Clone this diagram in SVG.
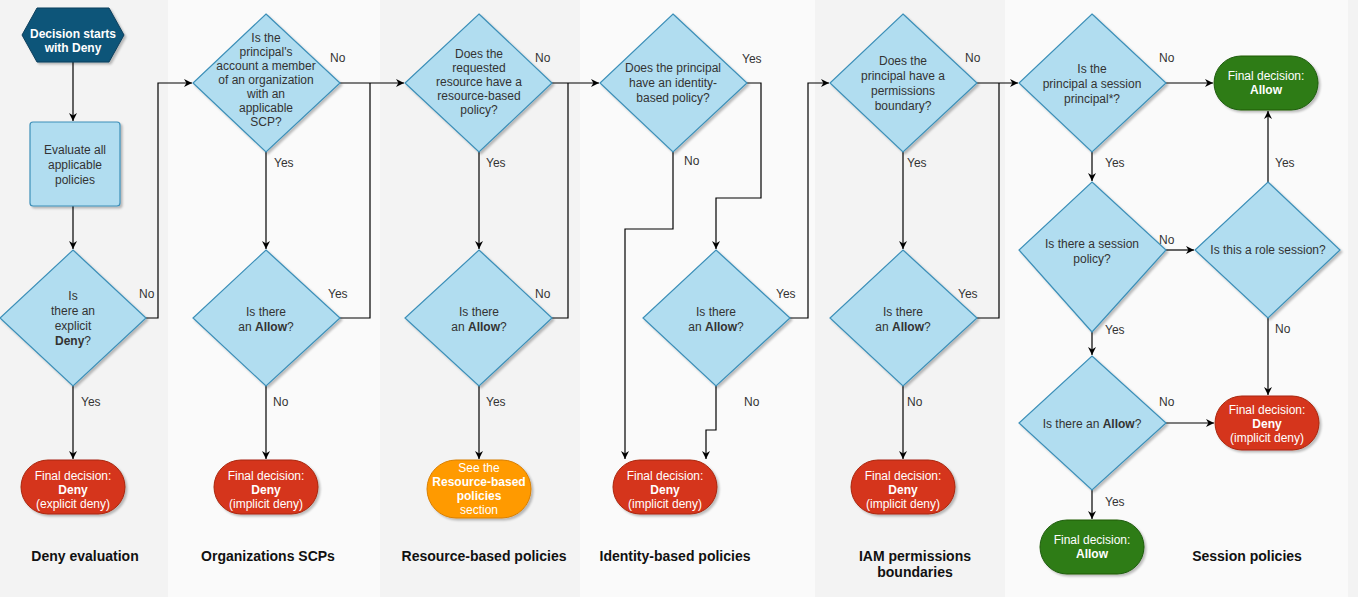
<svg xmlns="http://www.w3.org/2000/svg" width="1358" height="597" viewBox="0 0 1358 597">
<defs>
<marker id="ah" viewBox="0 0 10 10" refX="10" refY="5" markerWidth="8" markerHeight="8" orient="auto" markerUnits="userSpaceOnUse"><path d="M0,0 L10,5 L0,10 L3,5 z" fill="#000"/></marker>
<filter id="sh" x="-10%" y="-10%" width="130%" height="130%"><feDropShadow dx="2" dy="2" stdDeviation="1.2" flood-color="#000" flood-opacity="0.25"/></filter>
</defs>
<style>
.d{fill:#b1ddf0;stroke:#3c8fb8;stroke-width:1.2;filter:url(#sh)}
.t{font-family:"Liberation Sans",Arial,sans-serif;font-size:12px;fill:#333;text-anchor:middle}
.w{font-family:"Liberation Sans",Arial,sans-serif;font-size:12px;fill:#fff;text-anchor:middle}
.l{font-family:"Liberation Sans",Arial,sans-serif;font-size:12px;fill:#333}
.h{font-family:"Liberation Sans",Arial,sans-serif;font-size:14px;font-weight:bold;fill:#111;text-anchor:middle}
.red{fill:#d5341a;stroke:#a8260f;filter:url(#sh)}
.grn{fill:#2d7b16;stroke:#1f5c0d;filter:url(#sh)}
.c path{fill:none;stroke:#000;stroke-width:1.2}
.a{marker-end:url(#ah)}
</style>
<rect x="0" y="0" width="1358" height="597" fill="#f3f3f3"/>
<rect x="168" y="0" width="212" height="597" fill="#fafafa"/>
<rect x="580" y="0" width="235" height="597" fill="#fafafa"/>
<rect x="1005" y="0" width="343" height="597" fill="#fafafa"/>

<g class="c">
<path class="a" d="M73,62 V121"/>
<path class="a" d="M73,206 V249"/>
<path class="a" d="M73,386 V459"/>
<path class="a" d="M146,318 H158 V83 H192"/>
<path class="a" d="M266,152 V249"/>
<path class="a" d="M266,386 V459"/>
<path class="a" d="M340,83 H404"/>
<path d="M340,318 H370 V83"/>
<path class="a" d="M479,152 V249"/>
<path class="a" d="M479,386 V459"/>
<path class="a" d="M552,83 H599"/>
<path d="M552,318 H568 V83"/>
<path class="a" d="M747,83 H761 V198 H716 V249"/>
<path class="a" d="M673,152 V229 H625 V459"/>
<path class="a" d="M790,318 H808 V83 H829"/>
<path class="a" d="M716,386 V430 H706 V459"/>
<path class="a" d="M977,83 H1018"/>
<path d="M977,318 H999 V83"/>
<path class="a" d="M903,152 V249"/>
<path class="a" d="M903,386 V459"/>
<path class="a" d="M1166,83 H1213"/>
<path class="a" d="M1092,152 V181"/>
<path class="a" d="M1166,250 H1194"/>
<path class="a" d="M1092,332 V355"/>
<path class="a" d="M1166,423 H1214"/>
<path class="a" d="M1092,490 V519"/>
<path class="a" d="M1268,182 V111"/>
<path class="a" d="M1268,318 V395"/>
</g>

<g id="labels">
<text class="l" x="139" y="298">No</text>
<text class="l" x="81" y="406">Yes</text>
<text class="l" x="330" y="62">No</text>
<text class="l" x="274" y="167">Yes</text>
<text class="l" x="328" y="298">Yes</text>
<text class="l" x="273" y="406">No</text>
<text class="l" x="535" y="62">No</text>
<text class="l" x="486" y="167">Yes</text>
<text class="l" x="535" y="298">No</text>
<text class="l" x="486" y="406">Yes</text>
<text class="l" x="742" y="63">Yes</text>
<text class="l" x="684" y="165">No</text>
<text class="l" x="776" y="298">Yes</text>
<text class="l" x="744" y="406">No</text>
<text class="l" x="965" y="62">No</text>
<text class="l" x="907" y="167">Yes</text>
<text class="l" x="958" y="298">Yes</text>
<text class="l" x="907" y="406">No</text>
<text class="l" x="1159" y="62">No</text>
<text class="l" x="1105" y="167">Yes</text>
<text class="l" x="1159" y="244">No</text>
<text class="l" x="1105" y="334">Yes</text>
<text class="l" x="1159" y="406">No</text>
<text class="l" x="1105" y="506">Yes</text>
<text class="l" x="1275" y="167">Yes</text>
<text class="l" x="1275" y="333">No</text>
</g>

<g id="start">
<polygon points="37,8 109,8 124,35 109,62 37,62 22,35" fill="#0e5479" stroke="#0a3f5c" filter="url(#sh)"/>
<text class="w" font-weight="bold" x="73" y="38">Decision starts</text>
<text class="w" font-weight="bold" x="73" y="52">with Deny</text>
</g>
<g id="evaluate">
<rect x="30" y="122" width="90" height="84" rx="3" class="d"/>
<text class="t" x="75" y="154">Evaluate all</text>
<text class="t" x="75" y="169">applicable</text>
<text class="t" x="75" y="184">policies</text>
</g>
<g id="q-deny">
<polygon class="d" points="73,250 146,318 73,386 0,318"/>
<text class="t" x="73" y="300">Is</text>
<text class="t" x="73" y="315">there an</text>
<text class="t" x="73" y="330">explicit</text>
<text class="t" x="73" y="345" font-weight="bold">Deny<tspan font-weight="normal">?</tspan></text>
</g>
<g id="t-explicit">
<rect x="21" y="460" width="104" height="54" rx="27" class="red"/>
<text class="w" x="73" y="480">Final decision:</text>
<text class="w" x="73" y="494" font-weight="bold">Deny</text>
<text class="w" x="73" y="508">(explicit deny)</text>
</g>

<g id="q-scp">
<polygon class="d" points="266,14 340,83 266,152 193,83"/>
<text class="t" x="266" y="42">Is the</text>
<text class="t" x="266" y="56">principal's</text>
<text class="t" x="266" y="70">account a member</text>
<text class="t" x="266" y="84">of an organization</text>
<text class="t" x="266" y="98">with an</text>
<text class="t" x="266" y="112">applicable</text>
<text class="t" x="266" y="126">SCP?</text>
</g>
<g id="q-scp-allow">
<polygon class="d" points="266,250 340,318 266,386 193,318"/>
<text class="t" x="266" y="316">Is there</text>
<text class="t" x="266" y="331">an <tspan font-weight="bold">Allow</tspan>?</text>
</g>
<g id="t-scp">
<rect x="214" y="460" width="104" height="54" rx="27" class="red"/>
<text class="w" x="266" y="480">Final decision:</text>
<text class="w" x="266" y="494" font-weight="bold">Deny</text>
<text class="w" x="266" y="508">(implicit deny)</text>
</g>

<g id="q-rbp">
<polygon class="d" points="479,14 552,83 479,152 405,83"/>
<text class="t" x="479" y="58">Does the</text>
<text class="t" x="479" y="72">requested</text>
<text class="t" x="479" y="86">resource have a</text>
<text class="t" x="479" y="100">resource-based</text>
<text class="t" x="479" y="114">policy?</text>
</g>
<g id="q-rbp-allow">
<polygon class="d" points="479,250 552,318 479,386 405,318"/>
<text class="t" x="479" y="316">Is there</text>
<text class="t" x="479" y="331">an <tspan font-weight="bold">Allow</tspan>?</text>
</g>
<g id="t-rbp">
<rect x="427" y="460" width="104" height="58" rx="29" fill="#ff9a00" stroke="#d87f00" filter="url(#sh)"/>
<text class="w" x="479" y="472">See the</text>
<text class="w" x="479" y="486" font-weight="bold">Resource-based</text>
<text class="w" x="479" y="500" font-weight="bold">policies</text>
<text class="w" x="479" y="514">section</text>
</g>

<g id="q-ibp">
<polygon class="d" points="673,14 747,83 673,152 600,83"/>
<text class="t" x="673" y="72">Does the principal</text>
<text class="t" x="673" y="87">have an identity-</text>
<text class="t" x="673" y="102">based policy?</text>
</g>
<g id="q-ibp-allow">
<polygon class="d" points="716,250 790,318 716,386 643,318"/>
<text class="t" x="716" y="316">Is there</text>
<text class="t" x="716" y="331">an <tspan font-weight="bold">Allow</tspan>?</text>
</g>
<g id="t-ibp">
<rect x="613" y="460" width="104" height="54" rx="27" class="red"/>
<text class="w" x="665" y="480">Final decision:</text>
<text class="w" x="665" y="494" font-weight="bold">Deny</text>
<text class="w" x="665" y="508">(implicit deny)</text>
</g>

<g id="q-pb">
<polygon class="d" points="903,14 977,83 903,152 830,83"/>
<text class="t" x="903" y="65">Does the</text>
<text class="t" x="903" y="80">principal have a</text>
<text class="t" x="903" y="95">permissions</text>
<text class="t" x="903" y="110">boundary?</text>
</g>
<g id="q-pb-allow">
<polygon class="d" points="903,250 977,318 903,386 830,318"/>
<text class="t" x="903" y="316">Is there</text>
<text class="t" x="903" y="331">an <tspan font-weight="bold">Allow</tspan>?</text>
</g>
<g id="t-pb">
<rect x="851" y="460" width="104" height="54" rx="27" class="red"/>
<text class="w" x="903" y="480">Final decision:</text>
<text class="w" x="903" y="494" font-weight="bold">Deny</text>
<text class="w" x="903" y="508">(implicit deny)</text>
</g>

<g id="q-sp">
<polygon class="d" points="1092,14 1166,83 1092,152 1019,83"/>
<text class="t" x="1092" y="73">Is the</text>
<text class="t" x="1092" y="88">principal a session</text>
<text class="t" x="1092" y="103">principal*?</text>
</g>
<g id="q-spol">
<polygon class="d" points="1092,182 1166,250 1092,332 1019,250"/>
<text class="t" x="1092" y="248">Is there a session</text>
<text class="t" x="1092" y="263">policy?</text>
</g>
<g id="q-sallow">
<polygon class="d" points="1092,356 1166,423 1092,490 1019,423"/>
<text class="t" x="1092" y="428">Is there an <tspan font-weight="bold">Allow</tspan>?</text>
</g>
<g id="q-role">
<polygon class="d" points="1268,182 1340,250 1268,318 1195,250"/>
<text class="t" x="1268" y="254">Is this a role session?</text>
</g>
<g id="t-allow-top">
<rect x="1214" y="56" width="104" height="54" rx="27" class="grn"/>
<text class="w" x="1266" y="80">Final decision:</text>
<text class="w" x="1266" y="94" font-weight="bold">Allow</text>
</g>
<g id="t-deny-s">
<rect x="1215" y="396" width="104" height="54" rx="27" class="red"/>
<text class="w" x="1267" y="414">Final decision:</text>
<text class="w" x="1267" y="428" font-weight="bold">Deny</text>
<text class="w" x="1267" y="442">(implicit deny)</text>
</g>
<g id="t-allow-bottom">
<rect x="1040" y="520" width="104" height="54" rx="27" class="grn"/>
<text class="w" x="1092" y="544">Final decision:</text>
<text class="w" x="1092" y="558" font-weight="bold">Allow</text>
</g>

<g id="headings">
<text class="h" x="85" y="561">Deny evaluation</text>
<text class="h" x="268" y="561">Organizations SCPs</text>
<text class="h" x="484" y="561">Resource-based policies</text>
<text class="h" x="675" y="561">Identity-based policies</text>
<text class="h" x="915" y="561">IAM permissions</text>
<text class="h" x="915" y="577">boundaries</text>
<text class="h" x="1247" y="561">Session policies</text>
</g>
</svg>
